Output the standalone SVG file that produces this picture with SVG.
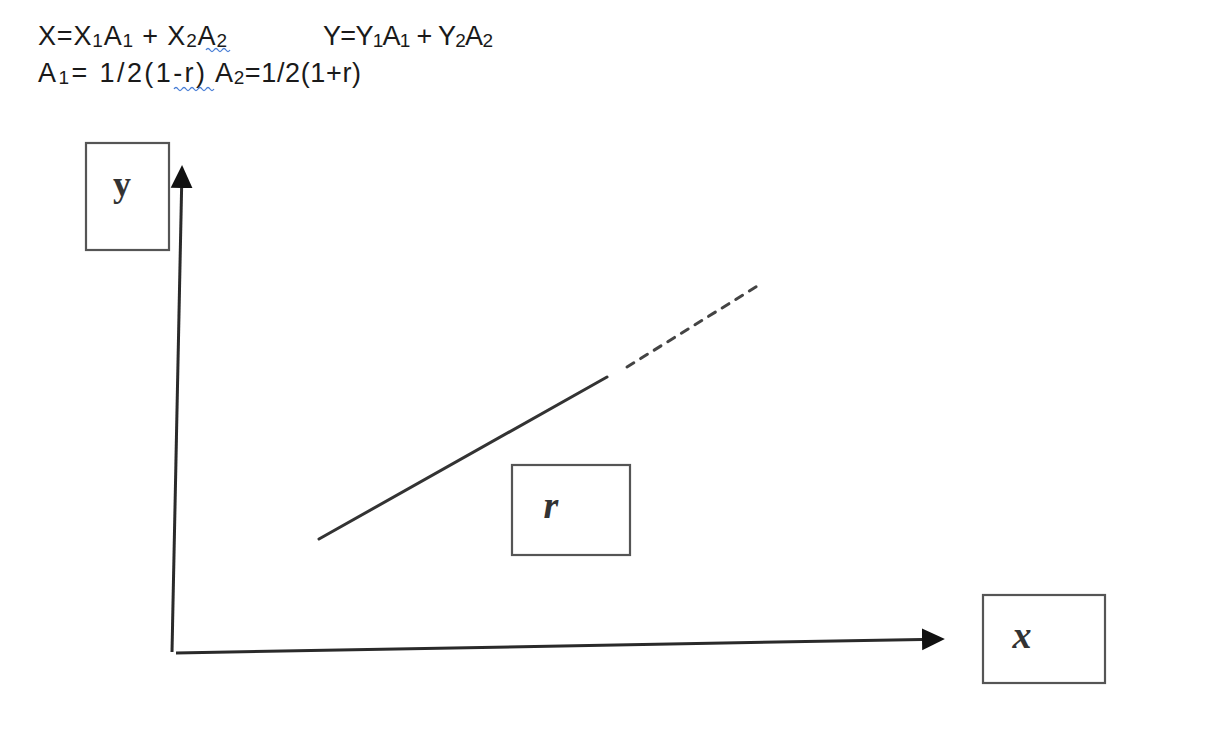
<svg xmlns="http://www.w3.org/2000/svg" width="1212" height="752" viewBox="0 0 1212 752">
<style>
.f{font-family:"Liberation Sans",Arial,sans-serif;font-size:27px;fill:#1a1a1a}
.s{font-size:19px}
.box{fill:#fff;stroke:#555;stroke-width:2.2}
.lbl{font-family:"Liberation Serif","Times New Roman",serif;fill:#333}
.ax{fill:none;stroke:#2a2a2a;stroke-width:3}
.sq{fill:none;stroke:#4a7fd6;stroke-width:1.3}
</style>
<defs>
<marker id="ah" markerUnits="userSpaceOnUse" markerWidth="24" markerHeight="24" viewBox="0 -11 22 22" refX="0" refY="0" orient="auto">
<path d="M0,-10 L21,0 L0,10 Z" fill="#111"/>
</marker>
</defs>
<rect width="1212" height="752" fill="#fff"/>
<g id="formulas">
<text class="f" x="38" y="45" textLength="189" lengthAdjust="spacing">X=X<tspan class="s" dy="2">1</tspan><tspan dy="-2">A</tspan><tspan class="s" dy="2">1</tspan><tspan dy="-2"> + X</tspan><tspan class="s" dy="2">2</tspan><tspan dy="-2">A</tspan><tspan class="s" dy="2">2</tspan></text>
<text class="f" x="323" y="45" textLength="170" lengthAdjust="spacing">Y=Y<tspan class="s" dy="2">1</tspan><tspan dy="-2">A</tspan><tspan class="s" dy="2">1</tspan><tspan dy="-2"> + Y</tspan><tspan class="s" dy="2">2</tspan><tspan dy="-2">A</tspan><tspan class="s" dy="2">2</tspan></text>
<text class="f" x="38" y="82" textLength="167" lengthAdjust="spacing">A<tspan class="s" dy="2">1</tspan><tspan dy="-2">= 1/2(1-r)</tspan></text>
<text class="f" x="215" y="82" textLength="146" lengthAdjust="spacing">A<tspan class="s" dy="2">2</tspan><tspan dy="-2">=1/2(1+r)</tspan></text>
<path class="sq" d="M206,50 q2,-3 4,0 t4,0 t4,0 t4,0 t4,0 t4,0"/>
<path class="sq" d="M174,89 q2,-3 4,0 t4,0 t4,0 t4,0 t4,0 t4,0 t4,0 t4,0 t4,0 t4,0"/>
</g>
<g id="node-y">
<rect class="box" x="86" y="143" width="83" height="107"/>
<text class="lbl" x="122" y="196" font-size="36" font-weight="bold" text-anchor="middle">y</text>
</g>
<g id="node-r">
<rect class="box" x="512" y="465" width="118" height="90"/>
<text class="lbl" x="551" y="518" font-size="38" font-style="italic" font-weight="bold" text-anchor="middle">r</text>
</g>
<g id="node-x">
<rect class="box" x="983" y="595" width="122" height="88"/>
<text class="lbl" x="1022" y="648" font-size="38" font-style="italic" font-weight="bold" text-anchor="middle">x</text>
</g>
<g id="connectors">
<path class="ax" d="M172,652 L181.6,188" marker-end="url(#ah)"/>
<path class="ax" d="M176,653 L922,639.4" marker-end="url(#ah)"/>
<path d="M319,539 L607,377" stroke="#333" stroke-width="3" fill="none" stroke-linecap="round"/>
<path d="M627,367 L759,285" stroke="#444" stroke-width="3" fill="none" stroke-dasharray="8 8" stroke-linecap="round"/>
</g>
</svg>
